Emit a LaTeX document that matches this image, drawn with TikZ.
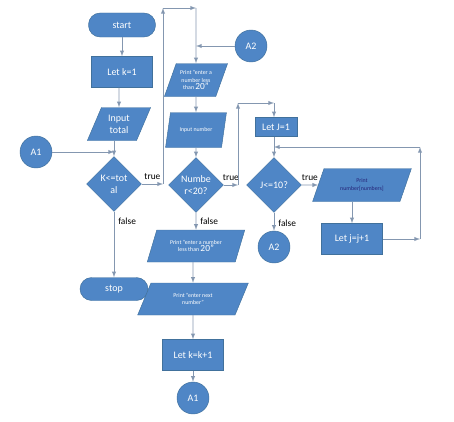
\documentclass[tikz,border=0pt]{standalone}
\usepackage{fontspec}
\setmainfont{Carlito}
\usetikzlibrary{arrows,shapes.geometric}
\definecolor{boxblue}{HTML}{4F86C6}
\definecolor{boxline}{HTML}{41719C}
\definecolor{linkgray}{HTML}{8497B0}
\definecolor{inkblue}{HTML}{26267A}

\begin{document}
\begin{tikzpicture}[x=0.03cm,y=-0.03cm,
    blk/.style={draw=boxline,fill=boxblue,text=white,align=center,inner sep=1pt,
      font=\fontsize{8.5}{10}\selectfont},
    term/.style={blk,rounded corners=3.5mm,minimum width=2.01cm,minimum height=0.72cm},
    proc/.style={blk,minimum width=1.83cm,minimum height=0.93cm},
    io/.style={blk,trapezium,trapezium left angle=65,trapezium right angle=115,
      trapezium stretches=true,minimum height=0.99cm},
    dec/.style={blk,diamond,minimum width=1.65cm,minimum height=1.65cm,inner sep=0pt},
    conn/.style={blk,circle,minimum size=0.96cm,inner sep=0pt},
    lnk/.style={draw=linkgray,line width=0.7pt,-latex},
    lbl/.style={text=black,font=\fontsize{8}{9}\selectfont},
    tinytxt/.style={font=\fontsize{5}{6.5}\selectfont}]
  \useasboundingbox (0,0) rectangle (454,421);
  \node[term] (start) at (122,25) {start};
  \node[proc] (letk) at (122,72) {Let k=1};
  \node[io,minimum width=1.9cm] (intotal) at (119,124) {Input\\total};
  \node[dec] (kcheck) at (114,184) {K<=tot\\al};
  \node[conn] (aone) at (36,152) {A1};
  \node[term,minimum width=2.04cm,minimum height=0.69cm] (stop) at (114,289) {stop};
  \node[io,minimum width=1.9cm,tinytxt] (askone) at (196,80)
    {Print "enter a\\number less\\than {\fontsize{8}{8}\selectfont 20”}};
  \node[io,minimum width=1.83cm,minimum height=1.05cm,tinytxt] (innum) at (196,130) {Input number};
  \node[dec] (ncheck) at (196,185) {Numbe\\r<20?};
  \node[io,minimum width=2.94cm,minimum height=0.96cm,tinytxt] (asktwo) at (196,246)
    {Print "enter a number\\less than {\fontsize{8}{8}\selectfont 20”}};
  \node[io,minimum width=3.33cm,minimum height=0.96cm,tinytxt] (asknext) at (193,299)
    {Print "enter next\\number”};
  \node[proc] (letkk) at (193,355) {Let k=k+1};
  \node[conn] (aoneb) at (193,398) {A1};
  \node[conn] (atwo) at (251,46) {A2};
  \node[proc,minimum width=1.26cm,minimum height=0.57cm] (letj) at (276,127) {Let J=1};
  \node[dec] (jcheck) at (274,185) {J<=10?};
  \node[conn] (atwob) at (274,247) {A2};
  \node[io,minimum width=2.97cm,tinytxt,text=inkblue] (shownum) at (362,185)
    {Print\\number[numbers]};
  \node[proc] (letjj) at (352,239) {Let j=j+1};
  \coordinate (aonein) at (114,152);
  \coordinate (ktrue) at (163,184);
  \coordinate (ktop) at (163,8);
  \coordinate (ntop) at (196,8);
  \coordinate (atwoin) at (196,46);
  \coordinate (ntrue) at (238,185);
  \coordinate (jtopa) at (238,103);
  \coordinate (jtopb) at (274,103);
  \coordinate (loopa) at (420,239);
  \coordinate (loopb) at (420,147);
  \coordinate (loopc) at (274,147);
  \draw[lnk] (start.south -| letk) -- (letk);
  \draw[lnk] (letk.south -| intotal) -- (intotal);
  \draw[lnk] (intotal.south -| kcheck) -- (kcheck);
  \draw[lnk] (aone) -- (aonein);
  \draw[lnk] (kcheck) -- node[lbl,above]{true} (ktrue);
  \draw[lnk] (ktrue) -- (ktop);
  \draw[lnk] (ktop) -- (ntop);
  \draw[lnk] (ntop) -- (askone);
  \draw[lnk] (atwo) -- (atwoin);
  \draw[lnk] (askone) -- (innum);
  \draw[lnk] (innum) -- (ncheck);
  \draw[lnk] (ncheck) -- node[lbl,above]{true} (ntrue);
  \draw[lnk] (ntrue) -- (jtopa);
  \draw[lnk] (jtopa) -- (jtopb);
  \draw[lnk] (jtopb) -- (jtopb |- letj.north);
  \draw[lnk] (letj.south -| jcheck) -- (jcheck);
  \draw[lnk] (jcheck) -- node[lbl,above]{true} (shownum);
  \draw[lnk] (shownum.south -| letjj) -- (letjj);
  \draw[lnk] (letjj) -- (loopa);
  \draw[lnk] (loopa) -- (loopb);
  \draw[lnk] (loopb) -- (loopc);
  \draw[lnk] (jcheck) -- node[lbl,right,pos=0.6]{false} (atwob);
  \draw[lnk] (kcheck) -- node[lbl,right,pos=0.15]{false} (stop);
  \draw[lnk] (ncheck) -- node[lbl,right]{false} (asktwo);
  \draw[lnk] (asktwo.south -| asknext) -- (asknext);
  \draw[lnk] (asknext) -- (letkk);
  \draw[lnk] (letkk) -- (aoneb);
\end{tikzpicture}
\end{document}
